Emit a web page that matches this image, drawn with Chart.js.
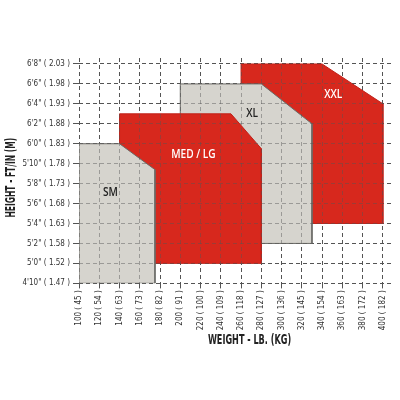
<!DOCTYPE html>
<html><head><meta charset="utf-8">
<script src="https://cdn.jsdelivr.net/npm/chart.js@4/dist/chart.umd.min.js"></script>
<style>html,body{margin:0;padding:0;background:#fff}#wrap{width:400px;height:400px;position:relative}</style>
</head><body><div id="wrap"><canvas id="c"></canvas></div>
<script>
// ---- data ----
const weightTicks = [100,120,140,160,180,200,220,240,260,280,300,320,340,360,380,400];
const weightKg    = [45,54,63,73,82,91,100,109,118,127,136,145,154,163,172,182];
const heightTicks = [58,60,62,64,66,68,70,72,74,76,78,80];
const heightLabels = ["4'10\" ( 1.47 )","5'0\" ( 1.52 )","5'2\" ( 1.58 )","5'4\" ( 1.63 )","5'6\" ( 1.68 )","5'8\" ( 1.73 )","5'10\" ( 1.78 )","6'0\" ( 1.83 )","6'2\" ( 1.88 )","6'4\" ( 1.93 )","6'6\" ( 1.98 )","6'8\" ( 2.03 )"];
const sizeNames = ["SM","MED / LG","XL","XXL"];
const xTitle = 'WEIGHT - LB. (KG)';
const yTitle = 'HEIGHT - FT/IN (M)';
// polygon outlines: weight (lb) / height (in)
const smWeight   = [100,100,140,175,175,100];
const smHeight   = [58,72,72,69.4,58,58];
const medWeight  = [140,140,250,280,280,140];
const medHeight  = [60,75,75,71.5,60,60];
const xlWeight   = [200,200,280,330,330,200];
const xlHeight   = [62,78,78,74,62,62];
const xxlWeight  = [260,260,340,400,400,260];
const xxlHeight  = [64,80,80,76,64,64];
// where each size name sits (lb, in)
const labelWeight = [131,213,271,351];
const labelHeight = [67.1,70.9,75.1,77.0];

const RED = '#d7281d', GRAY = '#d6d4ce';
const pts = (xs, ys) => xs.map((x,i)=>({x, y: ys[i]}));
const shape = (label, xs, ys, fillC, lineC, order, txt) => ({
  label, data: pts(xs, ys), showLine: true, fill: 'shape', tension: 0,
  backgroundColor: fillC, borderColor: lineC, borderWidth: 1, pointRadius: 0, order, txtColor: txt
});

const FONT = "'Liberation Sans Narrow','DejaVu Sans Condensed','Liberation Sans',sans-serif";

function squeezedText(ctx, text, x, y, sx, rot) {
  ctx.save();
  ctx.translate(x, y);
  if (rot) ctx.rotate(rot);
  ctx.scale(sx, 1);
  ctx.fillText(text, 0, 0);
  ctx.restore();
}

const overlay = {
  id: 'overlay',
  afterDatasetsDraw(chart) {
    const ctx = chart.ctx;
    ctx.save(); ctx.globalAlpha = 0.45;
    chart.scales.x.drawGrid(chart.chartArea);
    chart.scales.y.drawGrid(chart.chartArea);
    ctx.restore();
    const xs = chart.scales.x, ys = chart.scales.y;
    ctx.save();
    ctx.font = "600 13px 'Open Sans',sans-serif";
    ctx.textAlign = 'center'; ctx.textBaseline = 'middle';
    chart.data.datasets.forEach((ds, i) => {
      ctx.fillStyle = ds.txtColor;
      squeezedText(ctx, sizeNames[i], xs.getPixelForValue(labelWeight[i]), ys.getPixelForValue(labelHeight[i]), 0.78, 0);
    });
    ctx.restore();
  },
  afterDraw(chart) {
    const ctx = chart.ctx, a = chart.chartArea;
    ctx.save();
    ctx.font = "bold 14px 'DejaVu Sans',sans-serif";
    ctx.fillStyle = '#222'; ctx.textAlign = 'center'; ctx.textBaseline = 'middle';
    squeezedText(ctx, xTitle, (a.left + a.right)/2 + 14, 340, 0.58, 0);
    squeezedText(ctx, yTitle, 11, (a.top + a.bottom)/2 + 7, 0.54, -Math.PI/2);
    ctx.restore();
  }
};

new Chart(document.getElementById('c'), {
  type: 'scatter',
  data: { datasets: [
    shape('SM', smWeight, smHeight, GRAY, '#6a6a66', 1, '#222'),
    shape('MED / LG', medWeight, medHeight, RED, '#c0221a', 2, '#fff'),
    shape('XL', xlWeight, xlHeight, GRAY, '#6a6a66', 3, '#222'),
    shape('XXL', xxlWeight, xxlHeight, RED, '#c0221a', 4, '#fff')
  ]},
  options: {
    responsive: true, maintainAspectRatio: false, animation: false,
    layout: { padding: { top: 58, right: 8, left: 0, bottom: 0 } },
    plugins: { legend: { display: false }, tooltip: { enabled: false } },
    scales: {
      x: {
        type: 'linear', min: 100, max: 409,
        afterBuildTicks: s => { s.ticks = weightTicks.map(v => ({ value: v })); },
        afterFit: s => { s.height = 116.7; },
        grid: { color: '#555', lineWidth: 1, tickLength: 5, drawTicks: true },
        border: { display: false, dash: [4, 3] },
        ticks: {
          minRotation: 90, maxRotation: 90, padding: 2, color: '#333',
          font: { family: FONT, size: 8 }, autoSkip: false,
          callback: (v) => { const i = weightTicks.indexOf(v); return i < 0 ? '' : v + ' ( ' + weightKg[i] + ' )'; }
        }
      },
      y: {
        type: 'linear', min: 58, max: 80.6,
        afterBuildTicks: s => { s.ticks = heightTicks.map(v => ({ value: v })); },
        afterFit: s => { s.width = 79; },
        grid: { color: '#555', lineWidth: 1, tickLength: 6, drawTicks: true },
        border: { display: false, dash: [4, 3] },
        ticks: {
          padding: 3, color: '#333', font: { family: FONT, size: 8 }, autoSkip: false,
          callback: (v) => { const i = heightTicks.indexOf(v); return i < 0 ? '' : heightLabels[i]; }
        }
      }
    }
  },
  plugins: [overlay]
});
</script></body></html>
